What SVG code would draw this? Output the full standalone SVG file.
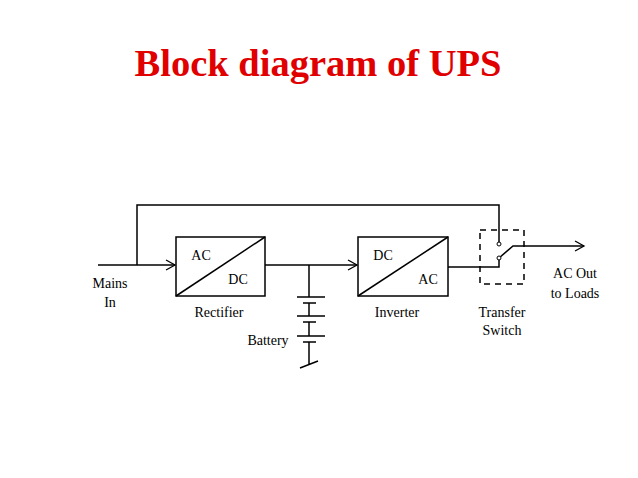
<svg xmlns="http://www.w3.org/2000/svg" width="638" height="478" viewBox="0 0 638 478">
<style>
.l{stroke:#000;stroke-width:1.5;fill:none}
.t{font-family:"Liberation Serif",serif;font-size:14px;fill:#000;text-anchor:middle}
</style>
<defs><marker id="a" markerWidth="12" markerHeight="12" refX="10" refY="6" orient="auto" markerUnits="userSpaceOnUse"><path d="M1,1 L10,6 L1,11" fill="none" stroke="#000" stroke-width="1.3"/></marker></defs>
<rect width="638" height="478" fill="#fff"/>
<text x="318" y="76" style="font-family:'Liberation Serif',serif;font-weight:bold;font-size:38.5px;fill:#e00000;text-anchor:middle">Block diagram of UPS</text>
<g id="connectors">
<path class="l" d="M98,265 H175" marker-end="url(#a)"/>
<path class="l" d="M137,265 V205 H499 V244"/>
<path class="l" d="M265,265 H357" marker-end="url(#a)"/>
<path class="l" d="M448,267 H499 V258"/>
<path class="l" d="M499,258 L513,246 H584" marker-end="url(#a)"/>
</g>
<g id="rectifier"><rect class="l" x="176" y="237" width="89" height="59"/><line class="l" x1="176" y1="296" x2="265" y2="237"/><text class="t" x="201" y="260">AC</text><text class="t" x="238" y="284">DC</text><text class="t" x="219" y="317">Rectifier</text></g>
<g id="inverter"><rect class="l" x="358" y="237" width="90" height="59"/><line class="l" x1="358" y1="296" x2="448" y2="237"/><text class="t" x="383" y="260">DC</text><text class="t" x="428" y="284">AC</text><text class="t" x="397" y="317">Inverter</text></g>
<g id="battery"><path class="l" d="M309,265 V297 M297,297 H325 M303,303 H316 M309,303 V316 M297,316 H325 M303,322 H316 M309,322 V336 M297,336 H325 M303,342 H316 M309,342 V364 M300,368 L318,361"/><text class="t" x="268" y="345">Battery</text></g>
<g id="switch"><rect x="480" y="230" width="44" height="54" fill="none" stroke="#000" stroke-width="1.5" stroke-dasharray="6,5"/><circle cx="499" cy="244" r="2" fill="#fff" stroke="#000"/><circle cx="499" cy="258" r="2" fill="#fff" stroke="#000"/><text class="t" x="502" y="317">Transfer</text><text class="t" x="502" y="335">Switch</text></g>
<g id="mains"><text class="t" x="110" y="288">Mains</text><text class="t" x="110" y="307">In</text></g>
<g id="out"><text class="t" x="575" y="278">AC Out</text><text class="t" x="575" y="298">to Loads</text></g>
</svg>
